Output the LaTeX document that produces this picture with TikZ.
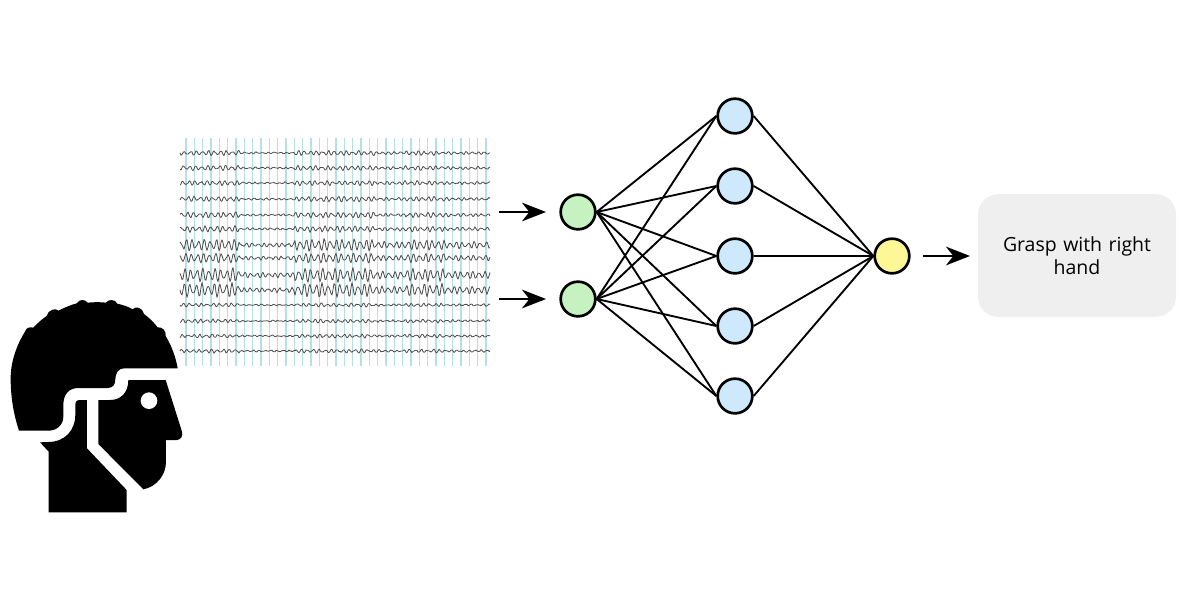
\documentclass[tikz,border=0pt]{standalone}
\usepackage{fontspec}
\setmainfont{Open Sans}
\usepackage{xcolor}
\usetikzlibrary{arrows.meta}
\definecolor{inputfill}{HTML}{C5F2C0}
\definecolor{hiddenfill}{HTML}{CEE9FB}
\definecolor{outputfill}{HTML}{FDF795}
\definecolor{boxfill}{HTML}{EFEFEF}
\definecolor{gridteal}{HTML}{B4E2E2}
\tikzset{
    neuron/.style = {circle, draw=black, line width=2pt, inner sep=0pt, minimum size=26pt},
    input_node/.style = {neuron, fill=inputfill},
    hidden_node/.style = {neuron, fill=hiddenfill},
    output_node/.style = {neuron, fill=outputfill},
    link/.style = {draw=black, line width=1.4pt},
    flow/.style = {-{Stealth[length=18pt, width=14pt, inset=5.5pt]}, draw=black, line width=1.4pt},
    result/.style = {rectangle, rounded corners=15pt, fill=boxfill, minimum width=148.5pt, minimum height=92pt, align=center, text width=130pt, font=\fontsize{14.6}{17.5}\selectfont},
    declare function={
        burst(\t) = (\t<60 ? 1 : (\t<115 ? 0.35 : (\t<195 ? 1 : (\t<225 ? 0.55 : (\t<265 ? 0.9 : 0.55)))));
    }
}
\begin{document}
\begin{tikzpicture}[x=0.75pt, y=-0.75pt]
    \useasboundingbox (0,0) rectangle (1200,600);

    % eeg grid
    \foreach \i in {0,...,36}
        \draw[gridteal, line width=0.95pt] ({186+8.33*\i},138) -- ({186+8.33*\i},366);
    % eeg traces
    \pgfmathsetseed{42}
    \foreach \row/\ypos/\amp in {0/153/2.4, 1/168/2.4, 2/183/2.4, 3/199/2.6, 4/215/2.8, 5/229/3, 6/245/6, 7/258/5, 8/275/7, 9/290/7, 10/305/1.8, 11/321/1.8, 12/336/1.8, 13/351/1.9} {
        \draw[black!70, line width=0.6pt, line join=round] plot[domain=0:310, samples=311, variable=\t]
            ({180+\t}, {\ypos + \amp*burst(\t)*(0.75*sin(6*mod(10*\t+\row*7,60)) + 0.3*sin(6*mod(14*\t+\row*11,60))) + 0.5*rand});
    }

    % head
    \begin{scope}[shift={(0,290)}, scale=1/3]
        \fill[black] (57,422) .. controls (40,370) and (32,320) .. (32,265)
            .. controls (32,215) and (50,165) .. (75,125)
            .. controls (78,112) and (92,110) .. (100,113)
            .. controls (112,100) and (125,88) .. (140,78)
            .. controls (143,60) and (168,52) .. (175,62)
            .. controls (195,52) and (212,45) .. (230,40)
            .. controls (238,27) and (255,27) .. (263,38)
            .. controls (285,36) and (300,36) .. (318,38)
            .. controls (325,27) and (345,27) .. (352,41)
            .. controls (370,45) and (385,50) .. (398,58)
            .. controls (405,47) and (428,52) .. (432,72)
            .. controls (450,85) and (462,98) .. (473,112)
            .. controls (485,110) and (500,122) .. (497,138)
            .. controls (515,168) and (527,200) .. (533,235)
            -- (372,235) .. controls (355,235) and (346,250) .. (346,268)
            .. controls (346,285) and (338,294) .. (322,294)
            -- (235,294) .. controls (205,294) and (190,315) .. (190,345)
            -- (190,380) .. controls (190,405) and (170,422) .. (145,422) -- cycle;
        \fill[black] (120,457) -- (145,456)
            .. controls (195,456) and (226,420) .. (226,375)
            -- (226,345) .. controls (226,335) and (230,330) .. (240,330)
            -- (261,330) -- (261,475) -- (380,600) -- (380,667) -- (146,667) -- (146,485) -- cycle;
        \fill[black] (295,330) -- (330,330)
            .. controls (365,330) and (385,305) .. (385,270)
            -- (497,270) -- (546,425)
            .. controls (550,438) and (542,450) .. (530,450)
            -- (498,450) -- (498,515)
            .. controls (498,555) and (470,590) .. (430,598)
            -- (295,462) -- cycle;
        \fill[white] (447,332) circle (25);
    \end{scope}

    % network
    \node (in1) [input_node] at (578,212) {};
    \node (in2) [input_node] at (578,299) {};
    \foreach \n/\ypos in {1/116, 2/186, 3/256, 4/326, 5/396}
        \node (hid\n) [hidden_node] at (735,\ypos) {};
    \node (out) [output_node] at (892,256) {};
    \foreach \n in {1,...,5} {
        \draw[link] (in1.east) -- (hid\n.west);
        \draw[link] (in2.east) -- (hid\n.west);
        \draw[link] (hid\n.east) -- (out.west);
    }

    % arrows
    \coordinate (src1) at (499,212);
    \coordinate (src2) at (499,299);
    \coordinate (dst1) at (546,212);
    \coordinate (dst2) at (546,299);
    \draw[flow] (src1) -- (dst1);
    \draw[flow] (src2) -- (dst2);

    \node (res) [result] at (1077,255.5) {Grasp with right\\hand};
    \coordinate (src3) at (923,256);
    \coordinate (dst3) at (970,256);
    \draw[flow] (src3) -- (dst3);
\end{tikzpicture}
\end{document}
